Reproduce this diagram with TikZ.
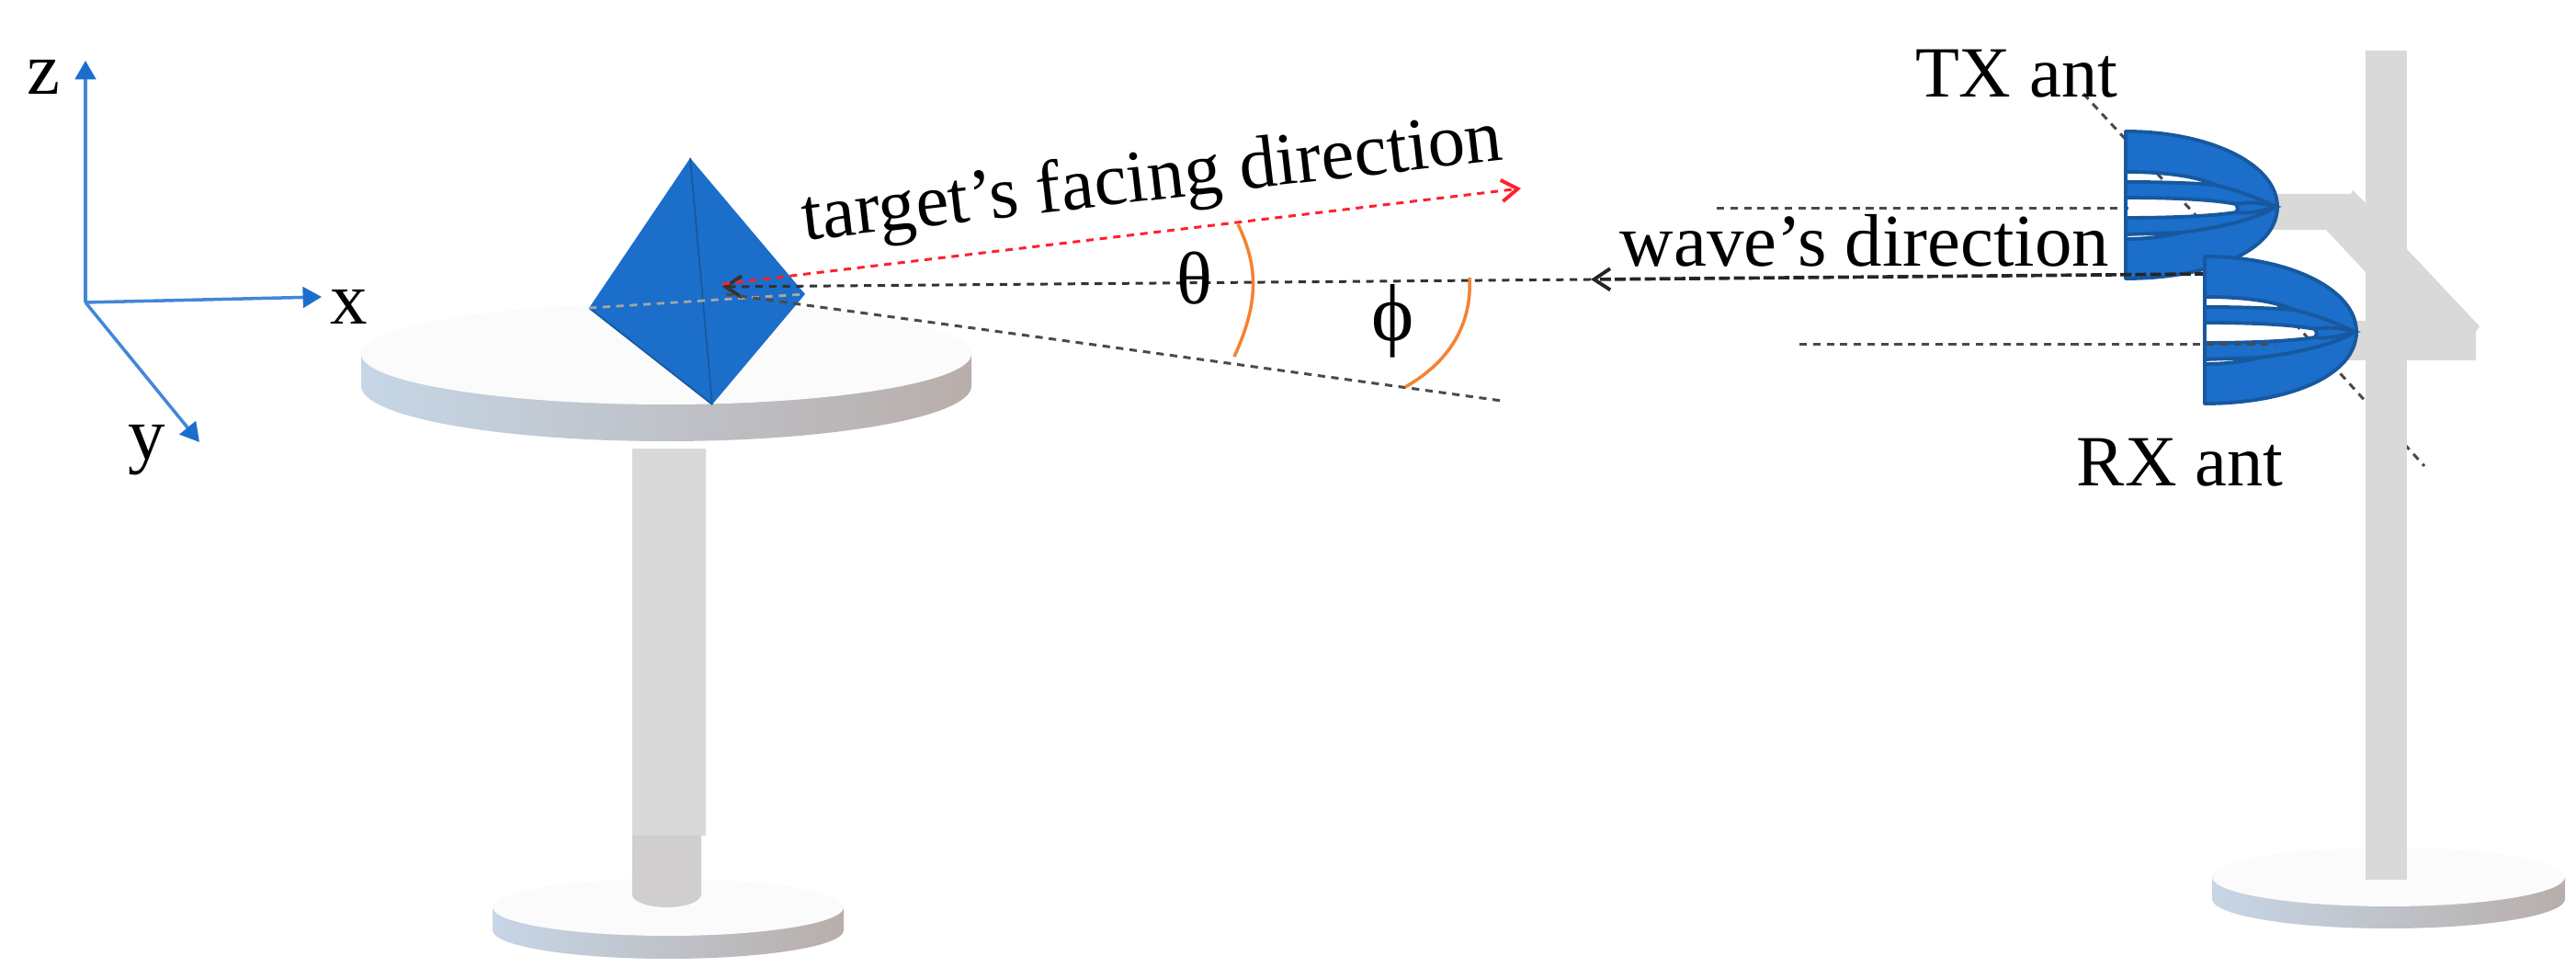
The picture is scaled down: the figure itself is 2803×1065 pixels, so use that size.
\documentclass[tikz,border=0pt]{standalone}
\usepackage{fontspec}
\setmainfont{Liberation Serif}
\usetikzlibrary{arrows.meta}
\definecolor{dishblue}{HTML}{1B6ECA}
\definecolor{dishedge}{HTML}{17589F}
\definecolor{axisblue}{HTML}{4287D8}
\definecolor{tipblue}{HTML}{1B6ECC}
\definecolor{standgray}{HTML}{D9D9D9}
\definecolor{collargray}{HTML}{D0CECE}
\definecolor{disctop}{HTML}{FBFBFB}
\definecolor{sideL}{HTML}{C6D6E6}
\definecolor{sideM}{HTML}{BEC8D6}
\definecolor{sideR}{HTML}{B8AEAB}
\definecolor{dashgray}{HTML}{4A4A4A}
\definecolor{redline}{HTML}{FF2030}
\definecolor{arcorange}{HTML}{F58232}
\tikzset{
  lbl/.style={font=\fontsize{23}{27}\selectfont, inner sep=0pt, text=black},
  lblsmall/.style={font=\fontsize{22.3}{27}\selectfont, inner sep=0pt, text=black},
  lblbig/.style={font=\fontsize{25}{29}\selectfont, inner sep=0pt, text=black},
  axisline/.style={draw=axisblue, line width=1pt, -{Triangle[length=5.8pt,width=6.4pt,color=tipblue]}},
  dashline/.style={draw=dashgray, line width=0.85pt, dash pattern=on 2.3pt off 1.9pt},
  wavebold/.style={draw=black!85, line width=1.05pt, dash pattern=on 3.4pt off 1.2pt},
  opentip/.style={-{Straight Barb[length=5pt,width=6.6pt,line width=1.1pt]}},
  redarrow/.style={draw=redline, line width=0.85pt, dash pattern=on 2.3pt off 1.9pt},
  arcline/.style={draw=arcorange, line width=1pt},
  standfill/.style={fill=standgray, draw=none},
  dishbody/.style={fill=dishblue, draw=dishedge, line width=1.1pt, even odd rule, line join=round},
  dishinner/.style={draw=dishedge, line width=1.1pt},
  dishant/.pic={
    \path[dishbody]
      (0,0) .. controls (90,0) and (165,35) .. (165,82)
            .. controls (165,130) and (90,160) .. (0,160) -- cycle
      (0,44) .. controls (40,44) and (75,48) .. (97,58)
             .. controls (70,56) and (35,55) .. (0,55) -- cycle
      (0,72) .. controls (50,72) and (95,74) .. (120,79) -- (122,84) -- (120,88)
             .. controls (95,92) and (50,94) .. (0,94) -- cycle
      (0,112) -- (60,110) .. controls (40,115) and (20,117) .. (0,117) -- cycle;
    \draw[dishinner] (97,58) .. controls (125,65) and (150,75) .. (163,82);
    \draw[dishinner] (120,79) .. controls (135,76) and (150,78) .. (163,82)
                     .. controls (150,86) and (135,90) .. (120,88);
    \draw[dishinner] (60,110) .. controls (100,105) and (145,95) .. (163,82);
  }
}
\newcommand{\discat}[6]{%
  \shade[left color=sideL, middle color=sideM, right color=sideR]
    ({#1-#3},#2) -- ++(0,#5)
    arc[start angle=180,end angle=360,x radius={#3*0.01cm},y radius={#6*0.01cm}]
    -- ++(0,-#5) -- cycle;
  \fill[disctop] (#1,#2) ellipse[x radius={#3*0.01cm},y radius={#4*0.01cm}];
}
\begin{document}
\begin{tikzpicture}[x=0.01cm,y=-0.01cm]
\useasboundingbox (0,0) rectangle (2803,1065);
\fill[white] (0,0) rectangle (2803,1065);

% axes
\coordinate (o) at (93,329);
\coordinate (zt) at (93,66);
\coordinate (xt) at (350,323);
\coordinate (yt) at (217,481);
\draw[axisline] (o) -- (zt);
\draw[axisline] (o) -- (xt);
\draw[axisline] (o) -- (yt);
\node[lbl] (zl) at (47,84) {z};
\node[lbl] (xl) at (380,334) {x};
\node[lbl] (yl) at (160,490) {y};

% rotating table
\discat{727}{987}{191}{31}{25}{31}
\fill[standgray] (688,488) rectangle (768,909);
\fill[collargray] (688,909) -- (763,909) -- (763,973)
   arc[start angle=0,end angle=-180,x radius=0.375cm,y radius=0.14cm] -- cycle;
\discat{725}{385}{332}{55}{35}{60}

% diamond target
\coordinate (dt) at (751,172);
\coordinate (dl) at (641,335);
\coordinate (dr) at (876,320);
\coordinate (db) at (775,440);
\fill[dishblue] (dt) -- (dr) -- (db) -- (dl) -- cycle;
\draw[dishedge, line width=0.5pt] (dt) -- (db);
\draw[dishedge, line width=0.5pt] (dl) -- (db);
\draw[draw=gray!70!white, line width=0.8pt, dash pattern=on 2.3pt off 1.9pt] (dl) -- (dr);

% RX/TX stand
\coordinate (tdiag1) at (2267,102);
\coordinate (tdiag2) at (2389,234);
\coordinate (rdiag1) at (2477,330);
\coordinate (rdiag2) at (2638,507);
\draw[dashline] (tdiag1) -- (tdiag2);
\draw[dashline] (rdiag1) -- (rdiag2);
\discat{2599}{954}{192}{32}{24}{32}
\fill[standgray] (2574,55) rectangle (2619,957);
\path[standfill] (2460,211) -- (2558,211) -- (2560,207) -- (2574,221) -- (2574,296)
   -- (2531,250) -- (2460,250) -- cycle;
\path[standfill] (2619,271) -- (2698,355) -- (2694,361) -- (2694,392) -- (2540,392)
   -- (2540,349) -- (2574,349) -- (2574,296) -- (2619,296) -- cycle;

% lines under the antennas
\coordinate (txh1) at (1868,227);
\coordinate (txh2) at (2316,227);
\draw[dashline] (txh1) -- (txh2);

\pic at (2313,143) {dishant};

\coordinate (wv1) at (2400,298);
\coordinate (wv2) at (1731,304);
\coordinate (c0) at (786,312);
\draw[wavebold, opentip] (wv1) -- (wv2);
\draw[dashline, draw=black!80, opentip] (wv2) -- (c0);

\pic at (2399,279) {dishant};

\coordinate (rxh1) at (1958,375);
\coordinate (rxh2) at (2475,375);
\draw[dashline] (rxh1) -- (rxh2);

% direction lines
\coordinate (redS) at (786,309);
\coordinate (redE) at (1655,205);
\draw[redarrow, opentip] (redS) -- (redE);
\coordinate (lowS) at (790,320);
\coordinate (lowE) at (1634,436);
\draw[dashline] (lowS) -- (lowE);

% angle arcs
\coordinate (ta1) at (1347,244);
\coordinate (ta2) at (1343,388);
\coordinate (pa1) at (1599,302);
\coordinate (pa2) at (1529,421);
\draw[arcline] (ta1) .. controls (1372,295) and (1367,335) .. (ta2);
\draw[arcline] (pa1) .. controls (1602,355) and (1575,395) .. (pa2);

% labels
\node[lbl] (theta) at (1300,303) {θ};
\node[lblbig] (phi) at (1516,349) {ϕ};
\node[lbl, rotate=6.6] (facing) at (1254,198) {target’s facing direction};
\node[lbl] (wave) at (2029,262) {wave’s direction};
\node[lblsmall] (tx) at (2194,80) {TX ant};
\node[lblsmall] (rx) at (2372,503) {RX ant};
\end{tikzpicture}
\end{document}
